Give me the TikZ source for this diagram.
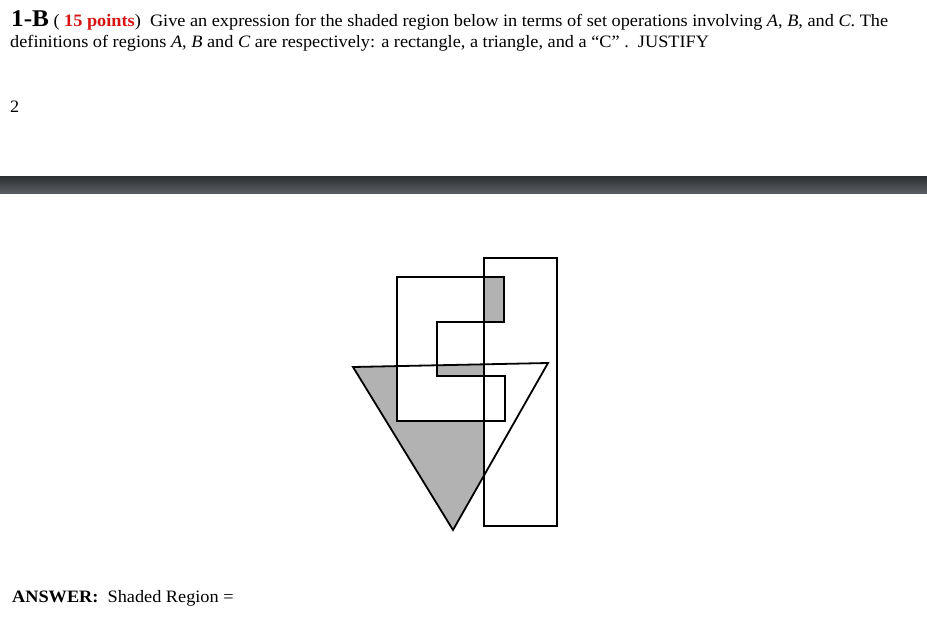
\documentclass[tikz,border=0pt]{standalone}
\usepackage{fontspec}
\setmainfont{Liberation Serif}[FakeStretch=1.05]
\usepackage{xcolor}
\usepackage{tikz}
\usetikzlibrary{positioning}

\definecolor{ptsred}{RGB}{214,20,20}
\definecolor{bartop}{RGB}{44,46,49}
\definecolor{barbot}{RGB}{90,94,98}

\begin{document}
\begin{tikzpicture}[
	x=1pt,y=-1pt,
	txt/.style={
		anchor=base west,
		inner sep=0pt,
		font=\fontsize{17.4}{20}\selectfont
	},
	region/.style={
		draw,
		line width=1.8pt,
		line join=miter
	},
	shade/.style={
		fill=black!30
	}
	]
	
	\useasboundingbox (0,0) rectangle (927,627);
	
	\node[txt] (title) at (11,26)
	{{\fontsize{24}{25}\selectfont\bfseries 1-B} ( \textcolor{ptsred}{\bfseries 15 points})\ \ Give an expression for the shaded region below in terms of set operations involving \textit{A}, \textit{B}, and \textit{C}. The};
	\node[txt] (defs) at (10,47)
	{definitions of regions \textit{A}, \textit{B} and \textit{C} are respectively: a rectangle, a triangle, and a “C” .\ \ JUSTIFY};
	
	\node[txt] (pagenum) at (10,112) {2};
	
	\shade[top color=bartop, bottom color=barbot] (0,176) rectangle (927,193);
	
	% rectangle A
	\coordinate (a1) at (484,258);
	\coordinate (a2) at (557,526);
	% triangle B
	\coordinate (b1) at (353,367);
	\coordinate (b2) at (548,363);
	\coordinate (b3) at (453,530);
	% the "C"
	\coordinate (c1) at (397,277);
	\coordinate (c2) at (504,277);
	\coordinate (c3) at (504,322);
	\coordinate (c4) at (437,322);
	\coordinate (c5) at (437,376);
	\coordinate (c6) at (505,376);
	\coordinate (c7) at (505,421);
	\coordinate (c8) at (397,421);
	
	% B minus (A and C)
	\begin{scope}
		\clip (b1) -- (b2) -- (b3) -- cycle;
		\fill[shade] (b1) -- (b2) -- (b3) -- cycle;
		\fill[white] (a1) rectangle (a2);
		\fill[white] (c1) -- (c2) -- (c3) -- (c4) -- (c5) -- (c6) -- (c7) -- (c8) -- cycle;
	\end{scope}
	
	% A and C, outside B
	\begin{scope}
		\clip (a1) rectangle (a2);
		\clip (c1) -- (c2) -- (c3) -- (c4) -- (c5) -- (c6) -- (c7) -- (c8) -- cycle;
		\fill[shade, even odd rule] (300,240) rectangle (600,540)
			(b1) -- (b2) -- (b3) -- cycle;
	\end{scope}
	
	\draw[region] (a1) rectangle (a2);
	\draw[region] (b1) -- (b2) -- (b3) -- cycle;
	\draw[region] (c1) -- (c2) -- (c3) -- (c4) -- (c5) -- (c6) -- (c7) -- (c8) -- cycle;
	
	\node[txt] (answer) at (12,602)
	{\textbf{ANSWER:}\ \ Shaded Region =};
	
\end{tikzpicture}
\end{document}
